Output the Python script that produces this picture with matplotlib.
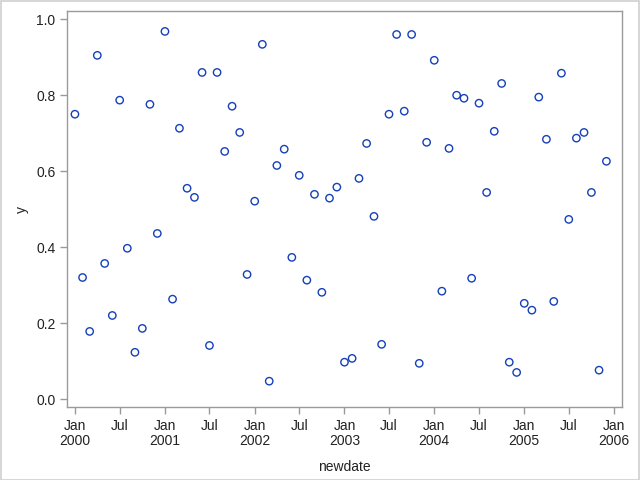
"""SAS 風格散佈圖：newdate vs y（每月一點）。"""

import matplotlib
matplotlib.use("Agg")
import matplotlib.pyplot as plt
import pandas as pd
from matplotlib.patches import Rectangle

# ---- data ----
start_month = "2000-01-01"
n_months = 72
y_values = [
    0.750, 0.320, 0.178, 0.905, 0.357, 0.220, 0.787, 0.397, 0.123, 0.186, 0.776, 0.436,
    0.968, 0.263, 0.713, 0.555, 0.531, 0.860, 0.141, 0.860, 0.652, 0.771, 0.702, 0.328,
    0.521, 0.934, 0.047, 0.615, 0.658, 0.373, 0.589, 0.313, 0.539, 0.281, 0.529, 0.558,
    0.097, 0.107, 0.581, 0.673, 0.481, 0.144, 0.750, 0.960, 0.758, 0.960, 0.094, 0.676,
    0.892, 0.284, 0.660, 0.800, 0.792, 0.318, 0.779, 0.544, 0.705, 0.831, 0.097, 0.070,
    0.252, 0.234, 0.795, 0.684, 0.257, 0.858, 0.473, 0.687, 0.702, 0.544, 0.076, 0.626,
]
y_ticks = [0.0, 0.2, 0.4, 0.6, 0.8, 1.0]
x_label = "newdate"
y_label = "y"

dates = pd.date_range(start_month, periods=n_months, freq="MS")

plt.rcParams["font.family"] = ["Liberation Sans", "DejaVu Sans"]

fig = plt.figure(figsize=(6.4, 4.8), dpi=100)
ax = fig.add_axes([67.3 / 640, 1 - 407 / 480, (622.4 - 67.3) / 640, (407 - 11.3) / 480])

ax.scatter(dates, y_values, s=28, facecolors="none", edgecolors="#1440b8", linewidths=1.0, zorder=3)

# ---- axes ----
ax.set_xlim(pd.Timestamp("1999-12-01"), pd.Timestamp("2006-02-04"))
ax.set_ylim(-0.021, 1.021)

tick_dates = pd.date_range("2000-01-01", "2006-01-01", freq="6MS")
ax.set_xticks(tick_dates)
ax.set_xticklabels([d.strftime("%b\n%Y") if d.month == 1 else d.strftime("%b") for d in tick_dates])
ax.set_yticks(y_ticks)
ax.set_yticklabels([f"{v:.1f}" for v in y_ticks])

spine_c = "#9a9a9a"
for s in ax.spines.values():
    s.set_color(spine_c)
    s.set_linewidth(1.0)
ax.tick_params(axis="both", colors=spine_c, labelcolor="#222222", labelsize=10, length=5, width=1)
for lab in ax.get_xticklabels():
    lab.set_verticalalignment("top")
    lab.set_linespacing(1.15)

ax.set_xlabel(x_label, fontsize=10, color="#222222", labelpad=8)
ax.set_ylabel(y_label, fontsize=10, color="#222222", labelpad=5.5)

# 外框
fig.patches.append(Rectangle((0.5 / 640, 0.5 / 480), 638.5 / 640, 478.5 / 480,
                             transform=fig.transFigure, fill=False, edgecolor="#d0d0d0", linewidth=1.2))

fig.savefig("out.png", dpi=100)
